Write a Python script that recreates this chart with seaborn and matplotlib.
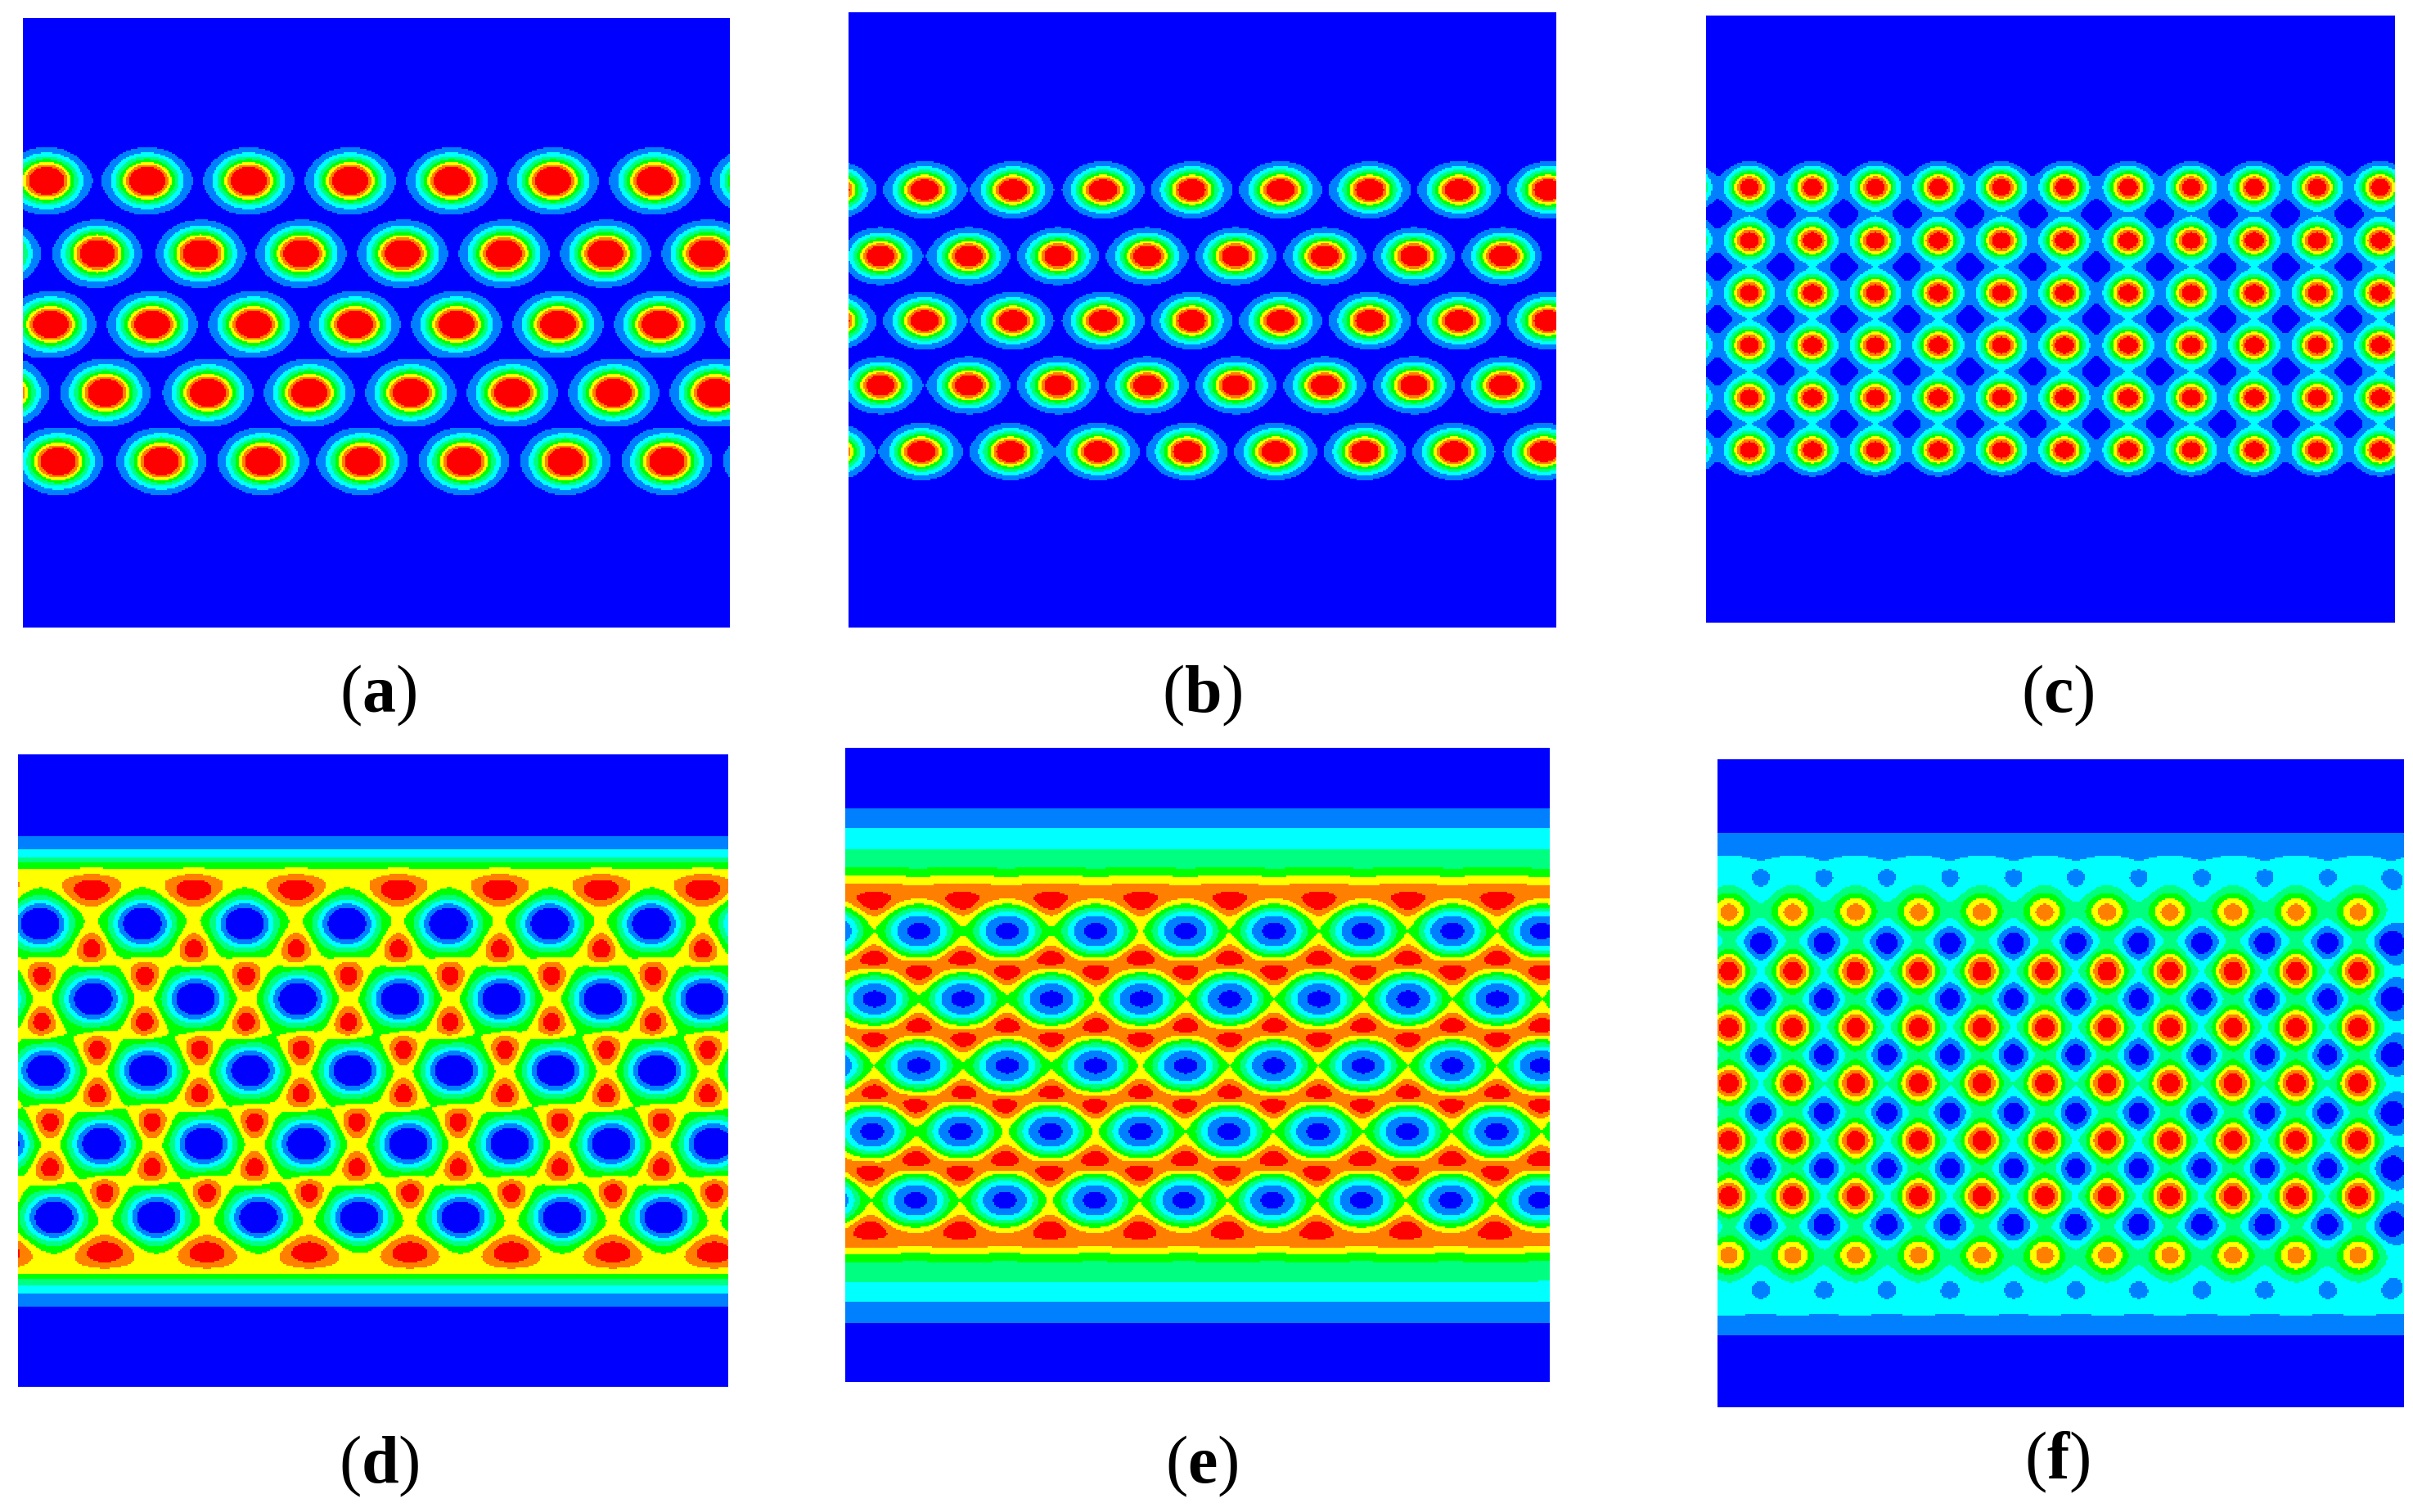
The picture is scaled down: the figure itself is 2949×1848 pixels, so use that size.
import numpy as np
import seaborn as sns
import matplotlib
matplotlib.use('Agg')
import matplotlib.pyplot as plt
from matplotlib.colors import ListedColormap

W, H = 2949, 1848
BAND_COLORS = ['#0000ff', '#0080ff', '#00ffff', '#00ff80', '#00ff00', '#ffff00', '#ff8000', '#ff0000']
LABELS = ['a', 'b', 'c', 'd', 'e', 'f']
LABEL_X = [462, 1469, 2515, 463, 1469, 2514]
LABEL_Y = [850, 850, 850, 1792, 1792, 1787]
# panel extents in reference pixels: left, right, top, bottom
BOX_A = [28, 892, 22, 767]
BOX_B = [1037, 1902, 15, 767]
BOX_C = [2085, 2927, 19, 761]
BOX_D = [22, 890, 922, 1695]
BOX_E = [1033, 1894, 914, 1689]
BOX_F = [2099, 2938, 928, 1720]

# spot centres (reference pixels)
A_Y = [220, 309, 396, 480, 564]
A_X = [[56, 179, 303, 427, 551, 675, 799, 923],
       [-6, 118, 244, 367, 491, 615, 739, 863],
       [61, 185, 309, 433, 557, 681, 805, 929],
       [4, 128, 253, 377, 501, 625, 749, 873],
       [70, 196, 320, 442, 566, 690, 814, 938]]

B_Y = [231, 312, 391, 470, 551]
B_ODD = [1020, 1129, 1237, 1347, 1456, 1565, 1674, 1783, 1892]
B_EVEN = [1075, 1183, 1292, 1401, 1510, 1619, 1728, 1837]
B_LAST = [1017, 1125, 1234, 1341, 1450, 1559, 1668, 1777, 1887]

C_Y = [228, 293, 357, 421, 485, 549]
C_X = [2060, 2137, 2214, 2291, 2368, 2445, 2522, 2600, 2677, 2754, 2831, 2908, 2985]

D_HOLE_Y = [1128, 1220, 1308, 1398, 1488]
D_HOLE_X = [[48, 173, 298, 423, 547, 671, 795, 919],
            [-11, 113, 238, 363, 488, 612, 736, 860],
            [55, 180, 305, 430, 554, 678, 802, 926],
            [-1, 123, 248, 373, 498, 622, 746, 870],
            [65, 190, 315, 438, 562, 686, 810, 934]]
D_RED_Y = [1087, 1159, 1192, 1248, 1282, 1337, 1372, 1427, 1458, 1530]
D_RED_X = [[-13, 111, 236, 361, 486, 610, 734, 858],
           [-13, 111, 236, 361, 486, 610, 734, 858],
           [50, 176, 300, 425, 549, 673, 797, 921],
           [50, 176, 300, 425, 549, 673, 797, 921],
           [-6, 118, 243, 367, 492, 616, 740, 864],
           [-6, 118, 243, 367, 492, 616, 740, 864],
           [60, 185, 310, 435, 559, 683, 807, 931],
           [60, 185, 310, 435, 559, 683, 807, 931],
           [2, 127, 252, 377, 500, 624, 748, 872],
           [2, 127, 252, 377, 500, 624, 748, 872]]
D_RED_AMP = [0.32, 0.33, 0.33, 0.33, 0.33, 0.33, 0.33, 0.33, 0.33, 0.32]
D_RED_SX = [24, 12, 12, 12, 12, 12, 12, 12, 12, 24]
D_BASE_Y = [1021, 1037, 1047, 1054, 1062, 1075, 1545, 1556, 1563, 1570, 1580, 1597]
D_BASE_V = [0.125, 0.25, 0.375, 0.5, 0.625, 0.68, 0.68, 0.625, 0.5, 0.375, 0.25, 0.125]

E_HOLE_Y = [1137, 1220, 1302, 1383, 1467]
E_HOLE_X = [[1013, 1122, 1230, 1338, 1448, 1557, 1666, 1775, 1884],
            [1068, 1176, 1284, 1394, 1503, 1612, 1721, 1830, 1939],
            [1013, 1122, 1230, 1338, 1448, 1557, 1666, 1775, 1884],
            [1065, 1173, 1283, 1393, 1502, 1611, 1720, 1829, 1938],
            [1009, 1118, 1227, 1337, 1446, 1555, 1664, 1773, 1882]]
E_RED_Y = [1100, 1170, 1188, 1252, 1270, 1335, 1352, 1416, 1434, 1503]
E_RED_X = [[1067, 1175, 1283, 1393, 1503, 1612, 1721, 1830],
           [1067, 1175, 1283, 1393, 1503, 1612, 1721, 1830],
           [1122, 1230, 1338, 1448, 1557, 1666, 1775, 1884],
           [1122, 1230, 1338, 1448, 1557, 1666, 1775, 1884],
           [1067, 1177, 1284, 1393, 1503, 1612, 1721, 1830],
           [1067, 1177, 1284, 1393, 1503, 1612, 1721, 1830],
           [1118, 1227, 1337, 1447, 1556, 1665, 1774, 1883],
           [1118, 1227, 1337, 1447, 1556, 1665, 1774, 1883],
           [1062, 1172, 1282, 1392, 1500, 1609, 1718, 1827],
           [1062, 1172, 1282, 1392, 1500, 1609, 1718, 1827]]
E_BASE_Y = [987, 1012, 1037, 1060, 1070, 1080, 1095, 1510, 1524, 1532, 1542, 1566, 1591, 1616]
E_BASE_V = [0.125, 0.25, 0.375, 0.5, 0.625, 0.75, 0.84, 0.84, 0.75, 0.625, 0.5, 0.375, 0.25, 0.125]

F_PEAK_Y = [1114, 1186, 1255, 1323, 1393, 1461, 1533]
F_PEAK_AMP = [0.54, 0.74, 0.74, 0.74, 0.74, 0.74, 0.54]
F_PEAK_SX = [18.5, 17, 17, 17, 17, 17, 18.5]
F_PEAK_X = [2112, 2190, 2267, 2344, 2421, 2498, 2575, 2652, 2729, 2806, 2882]
F_HOLE_Y = [1076, 1152, 1220, 1288, 1360, 1427, 1495, 1572]
F_HOLE_AMP = [0.08, 0.33, 0.33, 0.33, 0.33, 0.33, 0.33, 0.08]
F_HOLE_X = [2074, 2151, 2228, 2305, 2382, 2460, 2537, 2614, 2691, 2768, 2845, 2922]
F_BASE_Y = [1017, 1045, 1060, 1590, 1607, 1632]
F_BASE_V = [0.125, 0.25, 0.3, 0.3, 0.25, 0.125]

CELL = 2


def grid(box):
    return np.meshgrid(np.arange(box[0], box[1], CELL), np.arange(box[2], box[3], CELL))


def base(box, ys, vs):
    gx, gy = grid(box)
    return np.interp(gy, ys, vs, left=0, right=0)


def add_spots(field, box, row_y, row_x, amp, sx, sy, p=1.0):
    gx, gy = grid(box)
    for i, y in enumerate(row_y):
        a = amp[i] if np.ndim(amp) else amp
        s = sx[i] if np.ndim(sx) else sx
        for x in row_x[i]:
            q = ((gx - x) / s) ** 2 + ((gy - y) / sy) ** 2
            field = field + a * np.exp(-(q / 2) ** p)
    return field


def field_a():
    f = np.zeros_like(grid(BOX_A)[0], dtype=float)
    return add_spots(f, BOX_A, A_Y, A_X, 1.3, 24.5, 19)


def field_b():
    f = np.zeros_like(grid(BOX_B)[0], dtype=float)
    return add_spots(f, BOX_B, B_Y, [B_ODD, B_EVEN, B_ODD, B_EVEN, B_LAST], 1.22, 21.5, 16, 0.95)


def field_c():
    f = np.zeros_like(grid(BOX_C)[0], dtype=float)
    return add_spots(f, BOX_C, C_Y, [C_X] * len(C_Y), 1.08, 17.5, 15.5)


def field_d():
    f = base(BOX_D, D_BASE_Y, D_BASE_V)
    f = add_spots(f, BOX_D, D_HOLE_Y, D_HOLE_X, -0.78, 26, 22, 1.2)
    return add_spots(f, BOX_D, D_RED_Y, D_RED_X, D_RED_AMP, D_RED_SX, 13)


def field_e():
    f = base(BOX_E, E_BASE_Y, E_BASE_V)
    f = add_spots(f, BOX_E, E_HOLE_Y, E_HOLE_X, -0.74, 31, 22, 1.5)
    return add_spots(f, BOX_E, E_RED_Y, E_RED_X, 0.17, 15, 9)


def field_f():
    f = base(BOX_F, F_BASE_Y, F_BASE_V)
    f = add_spots(f, BOX_F, F_HOLE_Y, [F_HOLE_X] * len(F_HOLE_Y), -np.array(F_HOLE_AMP), 15, 15)
    return add_spots(f, BOX_F, F_PEAK_Y, [F_PEAK_X] * len(F_PEAK_Y), F_PEAK_AMP, F_PEAK_SX, 17)


plt.rcParams['mathtext.fontset'] = 'custom'
plt.rcParams['mathtext.rm'] = 'Liberation Serif'
plt.rcParams['mathtext.bf'] = 'Liberation Serif:bold'

cmap = ListedColormap(BAND_COLORS)
boxes = [BOX_A, BOX_B, BOX_C, BOX_D, BOX_E, BOX_F]
fields = [field_a(), field_b(), field_c(), field_d(), field_e(), field_f()]

fig = plt.figure(figsize=(W / 100, H / 100), dpi=100)
for box, field in zip(boxes, fields):
    ax = fig.add_axes([box[0] / W, 1 - box[3] / H, (box[1] - box[0]) / W, (box[3] - box[2]) / H])
    sns.heatmap(np.clip(field, 0, 0.999), vmin=0, vmax=1, cmap=cmap, cbar=False,
                xticklabels=False, yticklabels=False, ax=ax)

for name, x, y in zip(LABELS, LABEL_X, LABEL_Y):
    fig.text(x / W, 1 - y / H, r'$\mathrm{(}\mathbf{%s}\mathrm{)}$' % name,
             fontsize=59, ha='center', va='center', color='black')

fig.savefig('out.png', dpi=100)
